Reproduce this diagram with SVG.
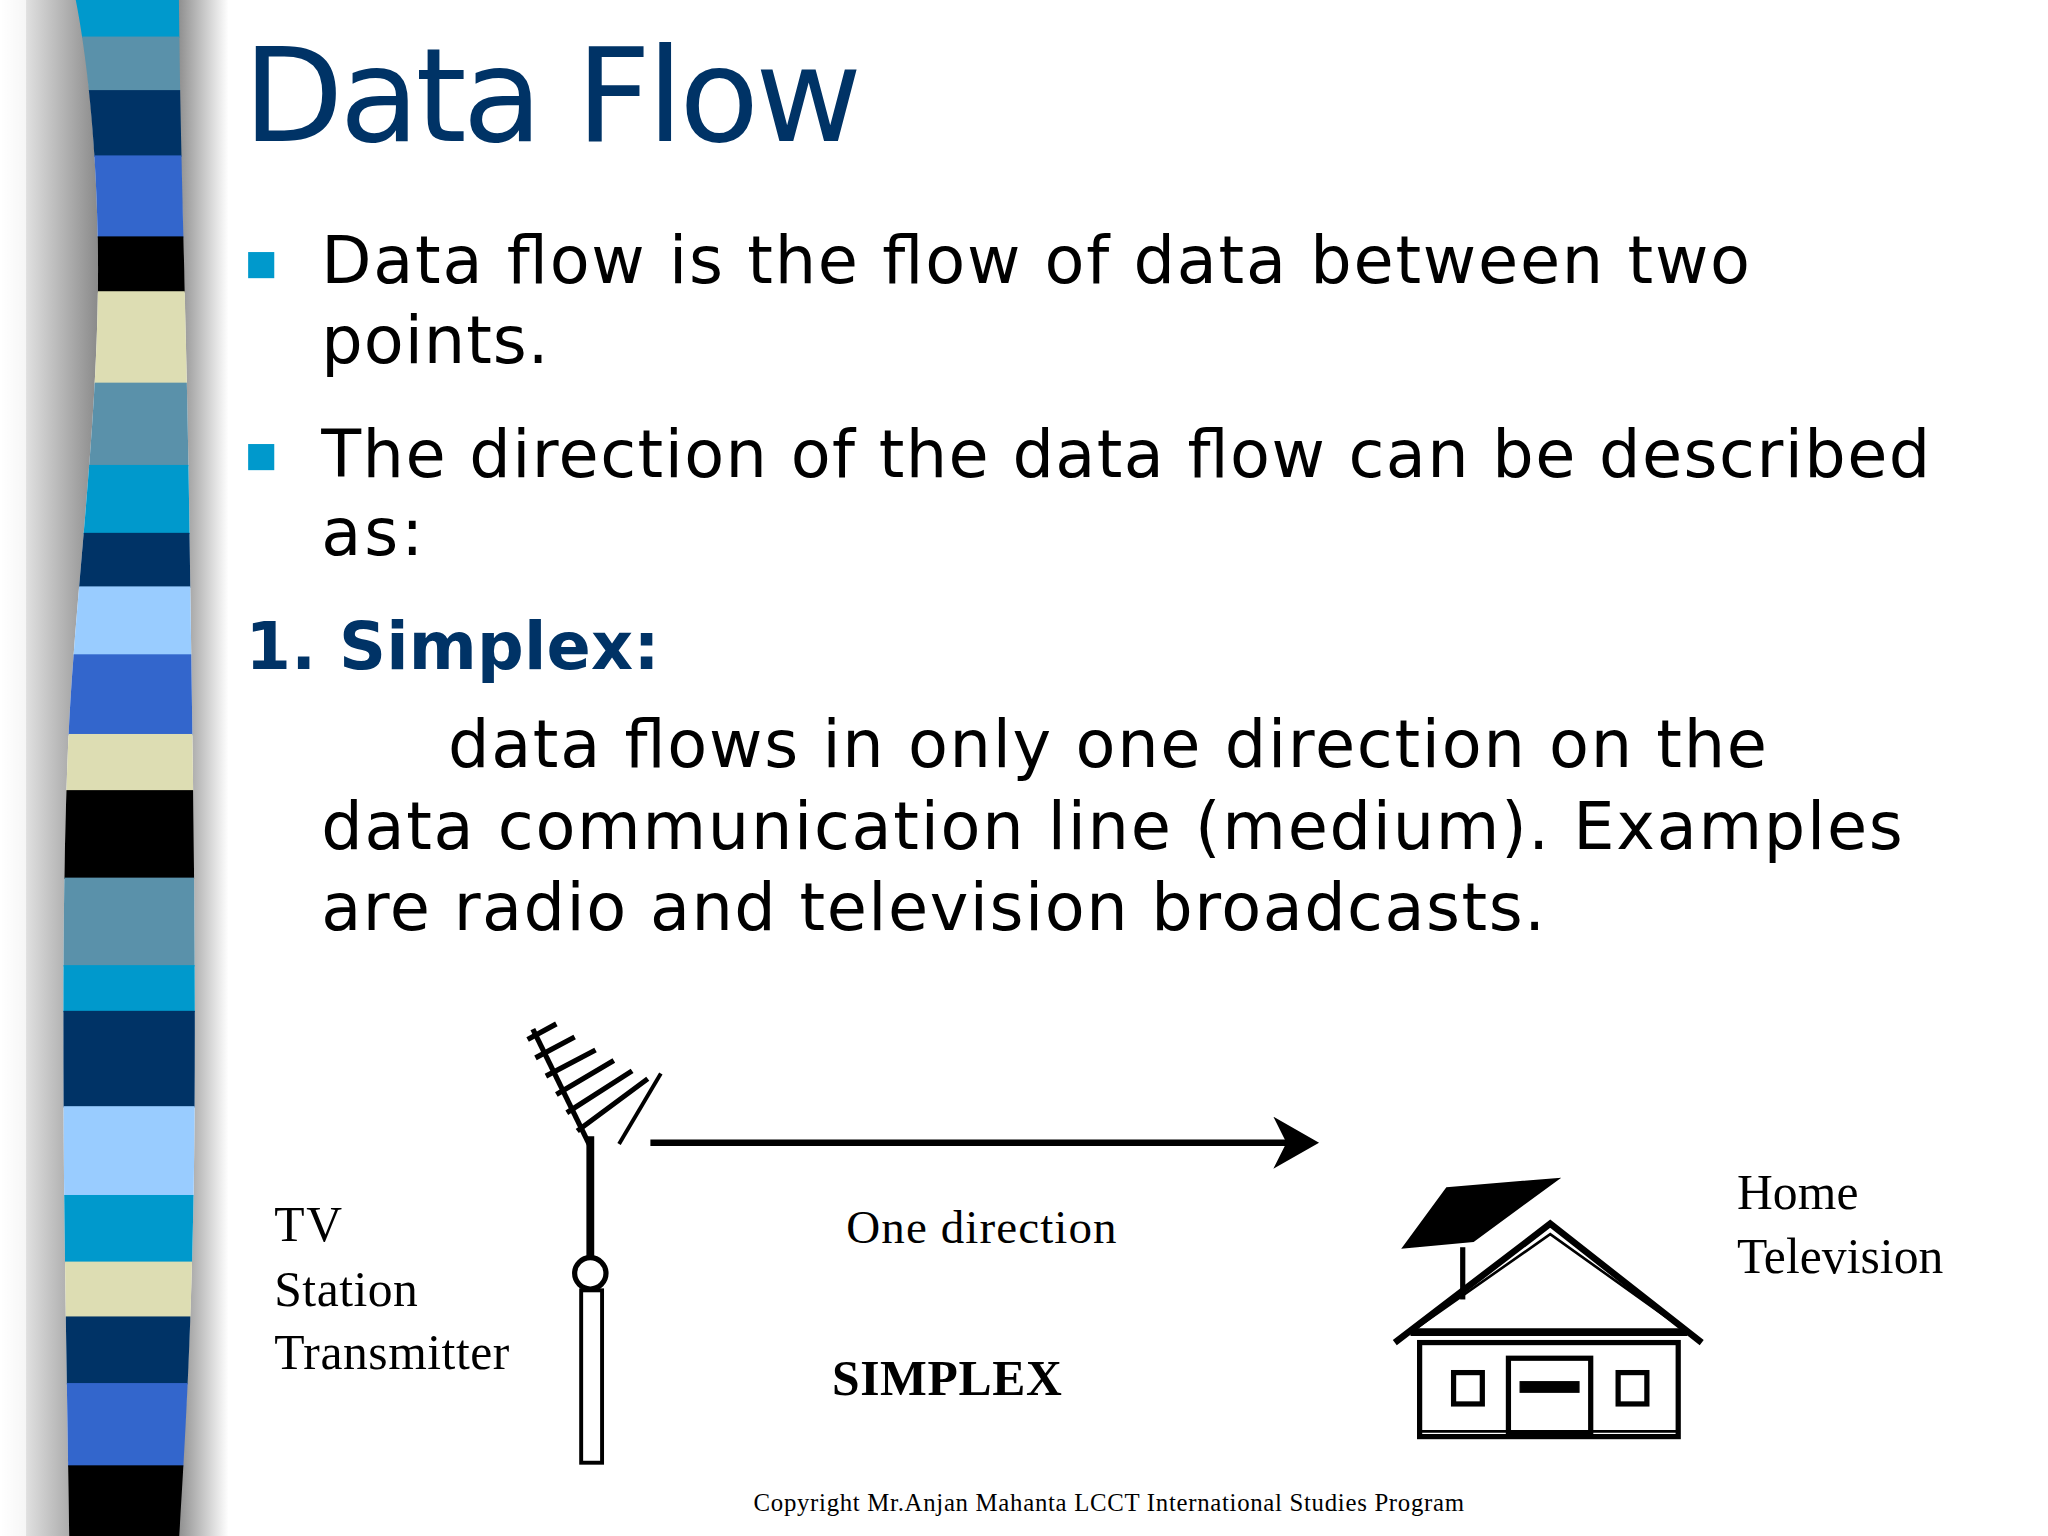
<svg xmlns="http://www.w3.org/2000/svg" width="2048" height="1536" viewBox="0 0 2048 1536">
<defs>
<style>
.body{font-family:"DejaVu Sans","Verdana",sans-serif;font-size:50px;fill:#000}
.ser{font-family:"Liberation Serif",serif;fill:#000}
</style>
<linearGradient id="lg" x1="0" x2="1"><stop offset="0" stop-color="#fff"/><stop offset="1" stop-color="#8a8a8a"/></linearGradient>
<linearGradient id="rg" x1="0" x2="1"><stop offset="0" stop-color="#8a8a8a"/><stop offset="1" stop-color="#fff"/></linearGradient>
<clipPath id="band"><path d="M58,0 C66,40 76,120 75,220 C74,320 62,420 55,520 C48,620 48,760 49,900 C50,1000 52,1100 53,1180 L137,1180 C142,1100 148,1000 149,850 C150,700 147,550 145,400 C143,250 138,120 137,0 Z"/></clipPath>
<marker id="ah" markerWidth="8" markerHeight="8" refX="6" refY="4" orient="auto" markerUnits="strokeWidth"><path d="M0,0 L7,4 L0,8 L2,4 Z" fill="#000"/></marker>
</defs>
<rect width="2048" height="1536" fill="#fff"/>
<g transform="scale(1.306)">
<g id="sidebar">
<path d="M0,0 H60 C66,40 76,120 75,220 C74,320 62,420 55,520 C48,620 48,760 49,900 C50,1000 52,1100 53,1180 H0 Z" fill="url(#lg)"/>
<rect x="0" y="0" width="20" height="1180" fill="#fff" opacity="0.7"/>
<path d="M135,0 H175 V1180 H135 C142,1100 148,1000 149,850 C150,700 147,550 145,400 C143,250 138,120 135,0 Z" fill="url(#rg)"/>
<g clip-path="url(#band)">
<rect x="40" y="0" width="120" height="29" fill="#0099CC"/>
<rect x="40" y="28" width="120" height="42" fill="#5A91AA"/>
<rect x="40" y="69" width="120" height="51" fill="#003366"/>
<rect x="40" y="119" width="120" height="63" fill="#3366CC"/>
<rect x="40" y="181" width="120" height="43" fill="#000"/>
<rect x="40" y="223" width="120" height="71" fill="#DDDDB3"/>
<rect x="40" y="293" width="120" height="64" fill="#5A91AA"/>
<rect x="40" y="356" width="120" height="53" fill="#0099CC"/>
<rect x="40" y="408" width="120" height="42" fill="#003366"/>
<rect x="40" y="449" width="120" height="53" fill="#99CCFF"/>
<rect x="40" y="501" width="120" height="62" fill="#3366CC"/>
<rect x="40" y="562" width="120" height="44" fill="#DDDDB3"/>
<rect x="40" y="605" width="120" height="68" fill="#000"/>
<rect x="40" y="672" width="120" height="68" fill="#5A91AA"/>
<rect x="40" y="739" width="120" height="36" fill="#0099CC"/>
<rect x="40" y="774" width="120" height="74" fill="#003366"/>
<rect x="40" y="847" width="120" height="69" fill="#99CCFF"/>
<rect x="40" y="915" width="120" height="52" fill="#0099CC"/>
<rect x="40" y="966" width="120" height="43" fill="#DDDDB3"/>
<rect x="40" y="1008" width="120" height="52" fill="#003366"/>
<rect x="40" y="1059" width="120" height="64" fill="#3366CC"/>
<rect x="40" y="1122" width="120" height="60" fill="#000"/>
</g>
</g>
<g id="title"><text x="186" y="108" font-family="DejaVu Sans,Verdana,sans-serif" font-size="100" fill="#003366" textLength="474">Data Flow</text></g>
<g id="bullets">
<rect x="190" y="193" width="20" height="20" fill="#0099CC"/>
<rect x="190" y="340" width="20" height="20" fill="#0099CC"/>
<text class="body" x="246" y="217" textLength="1094">Data flow is the flow of data between two</text>
<text class="body" x="246" y="278" textLength="174">points.</text>
<text class="body" x="246" y="365" textLength="1232">The direction of the data flow can be described</text>
<text class="body" x="246" y="425" textLength="78">as:</text>
<text x="188" y="512" font-family="DejaVu Sans,Verdana,sans-serif" font-size="50" font-weight="bold" fill="#003366" textLength="317">1. Simplex:</text>
<text class="body" x="343" y="587" textLength="1010">data flows in only one direction on the</text>
<text class="body" x="246" y="650" textLength="1211">data communication line (medium). Examples</text>
<text class="body" x="246" y="712" textLength="937">are radio and television broadcasts.</text>
</g>
<g id="antenna" stroke="#000" fill="none">
<line x1="408" y1="788" x2="452" y2="878" stroke-width="4"/>
<line x1="506" y1="822" x2="474" y2="876" stroke-width="3"/>
<path d="M404,796 L426,784 M410,810 L440,794 M418,824 L456,804 M426,838 L470,812 M434,852 L484,820 M442,866 L496,826" stroke-width="4"/>
<line x1="452" y1="870" x2="452" y2="962" stroke-width="6"/>
<circle cx="452" cy="975" r="12" stroke-width="4"/>
<rect x="445" y="988" width="16" height="132" stroke-width="3"/>
</g>
<g id="connectors">
<line x1="498" y1="875" x2="1005" y2="875" stroke="#000" stroke-width="5" marker-end="url(#ah)"/>
</g>
<g id="house" stroke="#000" fill="none">
<path d="M1068,1028 L1187,937 L1303,1028" stroke-width="5"/>
<path d="M1080,1020 L1187,945 L1292,1020" stroke-width="2"/>
<line x1="1080" y1="1020" x2="1292" y2="1020" stroke-width="6"/>
<rect x="1087" y="1028" width="198" height="72" stroke-width="4"/>
<line x1="1087" y1="1096" x2="1285" y2="1096" stroke-width="2"/>
<rect x="1113" y="1051" width="22" height="24" stroke-width="4"/>
<rect x="1239" y="1051" width="22" height="24" stroke-width="4"/>
<rect x="1155" y="1040" width="63" height="58" stroke-width="4"/>
<rect x="1164" y="1058" width="45" height="8" fill="#000"/>
<line x1="1120" y1="955" x2="1120" y2="995" stroke-width="4"/>
<path d="M1075,955 L1108,910 L1192,903 L1128,950 Z" fill="#000" stroke-width="2"/>
</g>
<g id="labels">
<text class="ser" x="210" y="950" font-size="38" textLength="52">TV</text>
<text class="ser" x="210" y="1000" font-size="38" textLength="110">Station</text>
<text class="ser" x="210" y="1048" font-size="38" textLength="180">Transmitter</text>
<text class="ser" x="648" y="952" font-size="36" textLength="207">One direction</text>
<text class="ser" x="637" y="1068" font-size="38" font-weight="bold" textLength="176">SIMPLEX</text>
<text class="ser" x="1330" y="926" font-size="38" textLength="93">Home</text>
<text class="ser" x="1330" y="975" font-size="38" textLength="158">Television</text>
<text class="ser" x="577" y="1157" font-size="19" textLength="544">Copyright Mr.Anjan Mahanta LCCT International Studies Program</text>
</g>
</g>
</svg>
